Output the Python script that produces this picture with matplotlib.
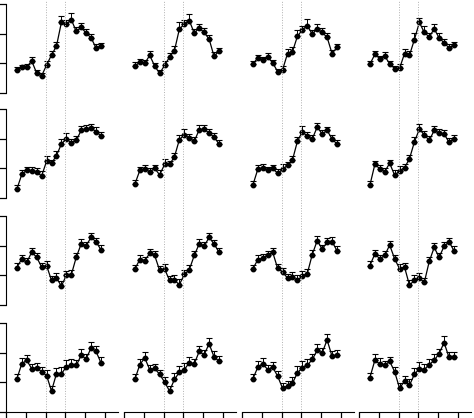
import numpy as np
import matplotlib.pyplot as plt

# time bins (18 per panel), tick marks and event markers
t = np.arange(18) * 0.25 + 0.55
xticks = [0, 1, 2, 3, 4, 5]
events = [2, 3]
yticks = [0, 1, 2, 3]

# mean values, rows top -> bottom, columns left -> right
r1c1 = [0.77, 0.86, 0.88, 1.08, 0.67, 0.58, 0.94, 1.28, 1.58, 2.38, 2.32, 2.47, 2.08, 2.21, 2.02, 1.86, 1.52, 1.58]
r1c2 = [0.91, 1.04, 1.00, 1.27, 0.91, 0.66, 0.93, 1.21, 1.43, 2.16, 2.32, 2.44, 2.02, 2.19, 2.04, 1.82, 1.24, 1.41]
r1c3 = [0.97, 1.19, 1.11, 1.21, 1.02, 0.72, 0.78, 1.33, 1.39, 1.91, 2.13, 2.27, 1.99, 2.16, 2.04, 1.88, 1.33, 1.54]
r1c4 = [0.97, 1.30, 1.16, 1.24, 0.99, 0.82, 0.83, 1.33, 1.27, 1.80, 2.38, 2.04, 1.89, 2.16, 1.86, 1.69, 1.52, 1.61]

r2c1 = [0.30, 0.80, 0.94, 0.91, 0.88, 0.74, 1.24, 1.17, 1.43, 1.82, 2.00, 1.86, 1.94, 2.28, 2.32, 2.36, 2.24, 2.10]
r2c2 = [0.47, 0.93, 0.99, 0.88, 1.00, 0.78, 1.13, 1.13, 1.39, 1.97, 2.13, 2.02, 1.91, 2.30, 2.32, 2.19, 2.06, 1.82]
r2c3 = [0.44, 0.97, 1.02, 0.93, 1.00, 0.83, 0.97, 1.10, 1.28, 1.91, 2.24, 2.08, 1.99, 2.39, 2.16, 2.28, 1.99, 1.82]
r2c4 = [0.43, 1.13, 0.99, 0.89, 1.17, 0.77, 0.91, 1.02, 1.32, 1.89, 2.32, 2.13, 1.94, 2.28, 2.19, 2.16, 1.88, 1.99]

r3c1 = [1.26, 1.56, 1.44, 1.78, 1.61, 1.28, 1.33, 0.83, 0.91, 0.64, 1.00, 1.02, 1.61, 2.06, 2.00, 2.28, 2.13, 1.86]
r3c2 = [1.22, 1.53, 1.50, 1.74, 1.67, 1.17, 1.22, 0.83, 0.83, 0.69, 1.03, 1.19, 1.67, 2.06, 1.98, 2.28, 2.06, 1.78]
r3c3 = [1.22, 1.53, 1.58, 1.67, 1.78, 1.24, 1.11, 0.91, 0.94, 0.83, 0.98, 1.06, 1.70, 2.17, 1.89, 2.11, 2.14, 1.83]
r3c4 = [1.33, 1.72, 1.56, 1.67, 2.02, 1.56, 1.22, 1.28, 0.67, 0.83, 0.91, 0.76, 1.47, 1.94, 1.61, 1.98, 2.13, 1.83]

r4c1 = [1.12, 1.63, 1.74, 1.46, 1.49, 1.36, 1.23, 0.71, 1.29, 1.29, 1.52, 1.57, 1.57, 1.91, 1.79, 2.16, 2.04, 1.66]
r4c2 = [1.10, 1.60, 1.82, 1.43, 1.47, 1.27, 1.01, 0.71, 1.10, 1.34, 1.43, 1.66, 1.62, 2.04, 1.93, 2.30, 1.86, 1.71]
r4c3 = [1.12, 1.51, 1.62, 1.43, 1.51, 1.21, 0.80, 0.88, 0.97, 1.32, 1.49, 1.57, 1.77, 2.08, 1.99, 2.43, 1.88, 1.91]
r4c4 = [1.16, 1.74, 1.62, 1.58, 1.71, 1.36, 0.80, 1.04, 0.90, 1.27, 1.46, 1.43, 1.60, 1.74, 1.97, 2.34, 1.84, 1.84]

# upper error (s.e.m.) per row
e1 = [0.12, 0.10, 0.10, 0.13, 0.10, 0.10, 0.14, 0.14, 0.15, 0.22, 0.14, 0.21, 0.14, 0.15, 0.15, 0.14, 0.13, 0.12]
e2 = [0.13, 0.13, 0.12, 0.12, 0.12, 0.16, 0.17, 0.12, 0.14, 0.16, 0.18, 0.14, 0.15, 0.15, 0.13, 0.12, 0.14, 0.13]
e3 = [0.14, 0.14, 0.13, 0.14, 0.15, 0.14, 0.15, 0.15, 0.17, 0.17, 0.16, 0.15, 0.14, 0.16, 0.14, 0.15, 0.14, 0.15]
e4 = [0.17, 0.20, 0.19, 0.15, 0.16, 0.16, 0.17, 0.16, 0.20, 0.22, 0.22, 0.20, 0.18, 0.20, 0.17, 0.21, 0.19, 0.18]

data = [[r1c1, r1c2, r1c3, r1c4],
        [r2c1, r2c2, r2c3, r2c4],
        [r3c1, r3c2, r3c3, r3c4],
        [r4c1, r4c2, r4c3, r4c4]]
errs = [e1, e2, e3, e4]

W, H = 474, 418
lefts = [6, 124, 242, 359]
tops = [4, 109, 216, 323]
aw, ah = 112, 89

fig = plt.figure(figsize=(W / 100, H / 100), dpi=100)

for r in range(4):
    for c in range(4):
        ax = fig.add_axes([lefts[c] / W, 1 - (tops[r] + ah) / H, aw / W, ah / H])
        y = np.array(data[r][c])
        e = np.array(errs[r])
        ax.errorbar(t, y, yerr=[np.zeros_like(e), e], fmt='-o', color='black',
                    ms=3.2, lw=0.9, elinewidth=0.7, capsize=2, capthick=0.8)
        ax.set_xlim(0, 5.66)
        ax.set_ylim(0, 3)
        for s in ['top', 'right']:
            ax.spines[s].set_visible(False)
        ax.spines['left'].set_visible(c == 0)
        ax.spines['bottom'].set_visible(r == 3)
        if c == 0:
            ax.set_yticks(yticks)
        else:
            ax.set_yticks([])
        if r == 3:
            ax.set_xticks(xticks)
            # event lines run the full height of the column
            ymax = (tops[3] + ah) / ah
            for ev in events:
                ax.axvline(ev, ymin=0, ymax=ymax, color='#b0b0b0', ls=':',
                           lw=0.7, clip_on=False, zorder=0)
        else:
            ax.set_xticks([])
        ax.tick_params(direction='out', length=5, width=0.9,
                       labelleft=False, labelbottom=False)
        ax.patch.set_visible(False)

fig.savefig('out.png', dpi=100)
